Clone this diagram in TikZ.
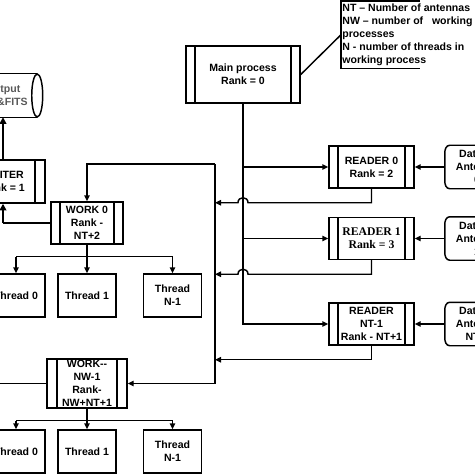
\documentclass[tikz,border=0pt]{standalone}
\usepackage{fontspec}
\setmainfont{Liberation Sans}
\newfontfamily\readerserif{Liberation Serif}
\usetikzlibrary{arrows.meta, calc}
\newcommand{\boxfont}{\fontsize{9}{11}\selectfont\bfseries}

\begin{document}
\begin{tikzpicture}[
    x=0.03cm, y=0.03cm,
    line/.style={line width=1.25pt},
    arrow/.style={line, -{Triangle[length=0.18cm, width=0.16cm]}},
    bigarrow/.style={line width=2.4pt, -{Triangle[length=0.2cm, width=0.2cm]}},
    proc/.style={rectangle, draw, line, align=center, font=\boxfont, inner sep=0.5pt,
                 path picture={\draw[line]
                   ([xshift=#1]path picture bounding box.north west) -- ([xshift=#1]path picture bounding box.south west)
                   ([xshift=-#1]path picture bounding box.north east) -- ([xshift=-#1]path picture bounding box.south east);}},
    proc/.default=0.27cm,
    reader/.style={proc, minimum width=2.55cm, minimum height=1.26cm},
    thread/.style={rectangle, draw, line, align=center, font=\boxfont,
                   minimum width=1.74cm, minimum height=1.29cm},
    source/.style={rectangle, align=center, font=\boxfont,
                   minimum width=1.92cm, minimum height=1.29cm}
  ]
    \useasboundingbox (0,0) rectangle (474,-474);

    % main process and legend
    \node[proc, minimum width=3.42cm, minimum height=1.71cm] (main) at (243,-74.5) {Main process\\Rank = 0};
    \node[anchor=north west, align=left, font=\boxfont, inner xsep=1pt, inner ysep=2.4pt] (legend) at (341,-1)
      {NT -- Number of antennas\\NW -- number of \ \ working\\processes\\N - number of threads in\\working process};

    % readers and antenna data
    \node[reader] (r0) at (371.5,-167) {READER 0\\Rank = 2};
    \node[reader, font=\fontsize{10}{11}\selectfont\readerserif\bfseries] (r1) at (371.5,-238.5) {READER 1\\Rank = 3};
    \node[reader] (r2) at (371.5,-324) {READER\\NT-1\\Rank - NT+1};
    \node[source] (d0) at (477,-167) {Data of\\Antenna\\0};
    \node[source] (d1) at (477,-238.5) {Data of\\Antenna\\1};
    \node[source] (d2) at (477,-324) {Data of\\Antenna\\NT-1};

    % writer and output
    \node[proc=0.3cm, minimum width=2.52cm, minimum height=1.29cm] (wr) at (3,-181.5) {WRITER\\Rank = 1};
    \node[source, minimum width=2.04cm, text=black!65] (out) at (3,-95.5) {Output\\LTA\&FITS};

    % workers and threads
    \node[proc, minimum width=2.16cm, minimum height=1.26cm] (w0) at (87,-223) {WORK 0\\Rank -\\NT+2};
    \node[proc=0.3cm, minimum width=2.4cm, minimum height=1.47cm] (wn) at (87,-383.5) {WORK-{}-\\NW-1\\Rank-\\NW+NT+1};
    \node[thread] (tha0) at (16,-295.5) {Thread 0};
    \node[thread] (tha1) at (87,-295.5) {Thread 1};
    \node[thread] (tha2) at (172.5,-295.5) {Thread\\N-1};
    \node[thread] (thb0) at (16,-451.5) {Thread 0};
    \node[thread] (thb1) at (87,-451.5) {Thread 1};
    \node[thread] (thb2) at (172.5,-451.5) {Thread\\N-1};

    \coordinate (ctop) at (215,-164);
    \coordinate (cbot) at (ctop |- wn.east);
    \coordinate (lout) at (-30,-383.5);

    % shapes drawn by hand
    \draw[line] ([xshift=2.37cm]legend.north west) -- (legend.north west) -- (legend.south west) -- ++(2.37cm,0);
    \foreach \d in {d0,d1,d2}
      \draw[line] (\d.north east) -- ([xshift=0.15cm]\d.north west) to[out=180,in=90] ([yshift=-0.24cm]\d.north west)
        -- ([yshift=0.24cm]\d.south west) to[out=-90,in=180] ([xshift=0.15cm]\d.south west) -- (\d.south east);
    \draw[line] ([xshift=-1cm]out.north west) -- (out.north east) ([xshift=-1cm]out.south west) -- (out.south east);
    \draw[line] (out.east) ellipse [x radius=0.165cm, y radius=0.645cm];

    % connectors
    \draw[line] (main.east) -- (legend.west);
    \draw[arrow] (main.south) |- (r2.west);
    \draw[arrow] (main.south |- r0.west) -- (r0.west);
    \draw[arrow] (main.south |- r1.west) -- (r1.west);
    \foreach \r/\d in {r0/d0, r1/d1, r2/d2}
      \draw[arrow] (\d.west) -- (\r.east);
    \foreach \r in {r0, r1}
      \draw[arrow] (\r.south) -- ++(0,-14) coordinate (h)
        -- ($(main.south |- h)+(5,0)$) .. controls +(0,6.7) and +(0,6.7) .. ++(-10,0)
        -- (ctop |- h);
    \draw[arrow] (r2.south) -- ++(0,-14) coordinate (h) -- (ctop |- h);

    \draw[arrow] (ctop) -| (w0.north);
    \draw[arrow] (ctop) -- (cbot) -- (wn.east);
    \draw[line] (wn.west) -- (lout);
    \draw[line] (w0.west) -- (w0.west -| wr.south);
    \draw[bigarrow] (w0.west -| wr.south) -- (wr.south);
    \draw[bigarrow] (wr.north) -- (out.south);

    \foreach \w/\k in {w0/a, wn/b} {
      \draw[arrow] (\w.south) -- (th\k1.north);
      \coordinate (bus) at ($(\w.south)+(0,-12)$);
      \draw[line] (bus -| th\k0.north) -- (bus -| th\k2.north);
      \draw[arrow] (bus -| th\k0.north) -- (th\k0.north);
      \draw[arrow] (bus -| th\k2.north) -- (th\k2.north);
    }
  \end{tikzpicture}
\end{document}
